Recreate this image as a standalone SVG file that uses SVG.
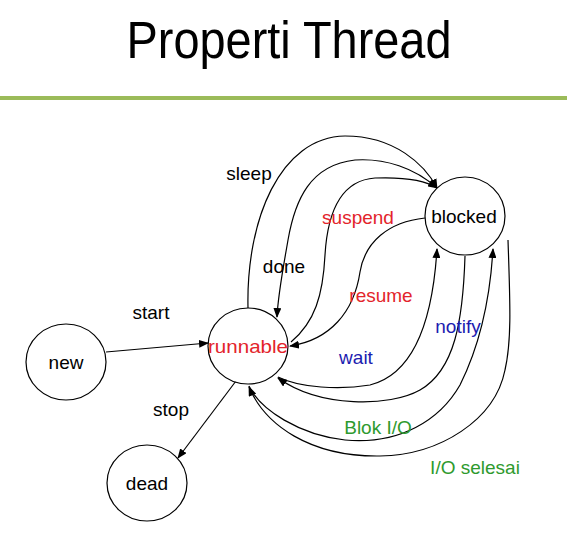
<svg xmlns="http://www.w3.org/2000/svg" width="567" height="540" viewBox="0 0 567 540">
<defs>
<marker id="ah" markerUnits="userSpaceOnUse" markerWidth="10" markerHeight="8" refX="9" refY="4" orient="auto">
<path d="M0,0 L10,4 L0,8 Z" fill="#000"/>
</marker>
<style>
.node ellipse{fill:#fff;stroke:#000;stroke-width:1.2}
.t{font-family:"Liberation Sans",Arial,sans-serif;font-size:19px;text-anchor:middle}
.k{fill:#000}.r{fill:#e3242b}.b{fill:#1c1cb0}.g{fill:#2e9a2e}
#connectors path,#connectors line{fill:none;stroke:#000;stroke-width:1.2;marker-end:url(#ah)}
</style>
</defs>
<rect width="567" height="540" fill="#fff"/>
<text x="289" y="58" font-family="'Liberation Sans Narrow','Liberation Sans',Arial,sans-serif" font-size="51" text-anchor="middle" textLength="325" lengthAdjust="spacingAndGlyphs">Properti Thread</text>
<rect x="0" y="96" width="567" height="4" fill="#9bbb59"/>
<g id="connectors">
<line x1="106" y1="352" x2="208" y2="343"/>
<line x1="236" y1="381" x2="178" y2="458"/>
<path d="M248,308 C246,220 280,137 345,136 C395,136 425,165 437,188"/>
<path d="M437,188 C415,168 385,158 355,160 C310,165 295,200 288,240 C282,275 278,295 277,317"/>
<path d="M291,342 C315,322 323,295 325,255 C328,205 345,180 375,178 C402,177 425,180 437,188"/>
<path d="M425,218 C388,222 365,242 360,272 C354,312 330,340 290,346"/>
<path d="M278,377 C300,388 340,390 370,385 C410,375 432,330 437,249"/>
<path d="M465,256 C463,320 455,370 420,390 C390,407 320,408 278,378"/>
<path d="M249,386 C260,410 300,435 345,440 C400,445 440,420 460,385 C480,345 490,300 493,249"/>
<path d="M508,240 C510,300 512,340 505,370 C495,420 440,455 380,456 C310,457 265,425 249,387"/>
</g>
<g id="new" class="node"><ellipse cx="66" cy="362" rx="40" ry="38"/><text class="t k" x="66" y="369">new</text></g>
<g id="dead" class="node"><ellipse cx="147" cy="483" rx="40" ry="38"/><text class="t k" x="147" y="490">dead</text></g>
<g id="runnable" class="node"><ellipse cx="248" cy="346" rx="40" ry="38"/><text class="t r" x="248" y="353" textLength="80" lengthAdjust="spacingAndGlyphs">runnable</text></g>
<g id="blocked" class="node"><ellipse cx="465" cy="216" rx="40" ry="39"/><text class="t k" x="464" y="223">blocked</text></g>
<g id="labels">
<text class="t k" x="249" y="180">sleep</text>
<text class="t k" x="284" y="273">done</text>
<text class="t k" x="151" y="319">start</text>
<text class="t k" x="171" y="416">stop</text>
<text class="t r" x="358" y="224">suspend</text>
<text class="t r" x="381" y="302">resume</text>
<text class="t b" x="458" y="333">notify</text>
<text class="t b" x="356" y="364">wait</text>
<text class="t g" x="378" y="434">Blok I/O</text>
<text class="t g" x="475" y="474">I/O selesai</text>
</g>
</svg>
